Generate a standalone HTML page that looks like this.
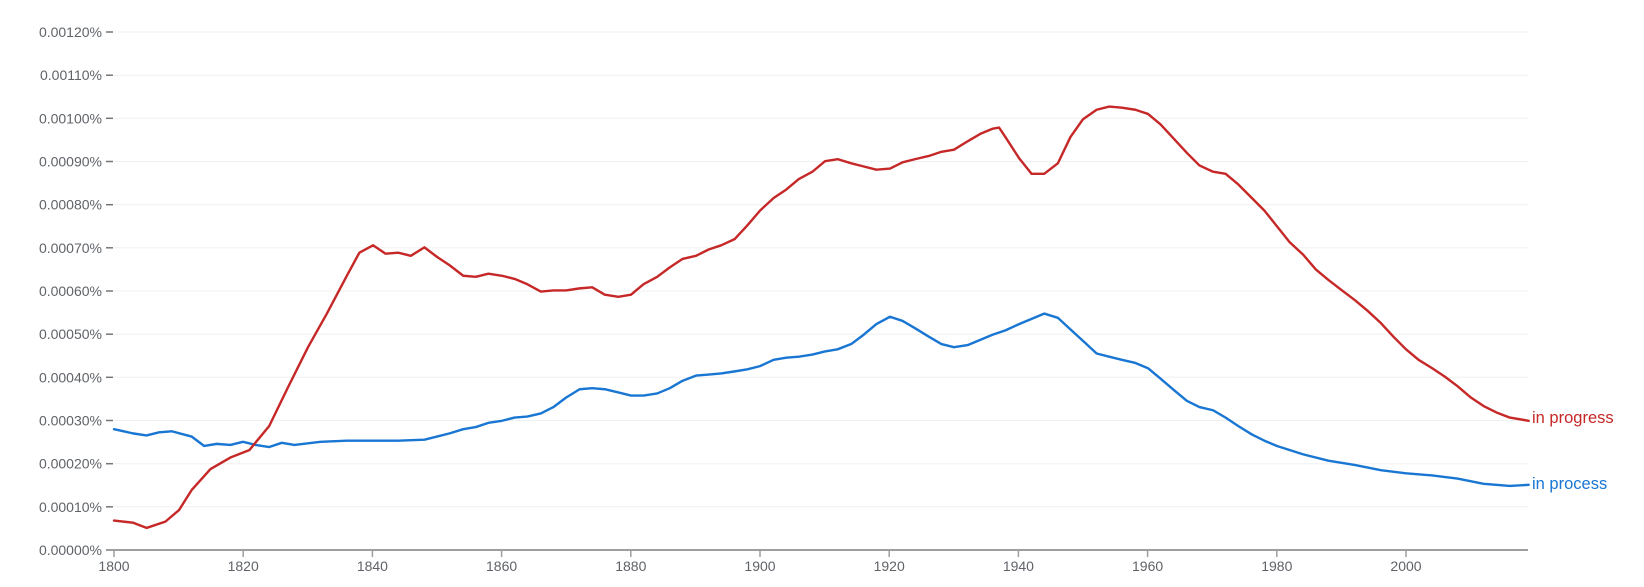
<!DOCTYPE html>
<html><head><meta charset="utf-8"><style>
html,body{margin:0;padding:0;background:#fff;}
svg{display:block;font-family:"Liberation Sans",Roboto,sans-serif;}
</style></head><body>
<svg width="1644" height="587" viewBox="0 0 1644 587" xmlns="http://www.w3.org/2000/svg">
<g stroke="#f0f0f0" stroke-width="1">
<line x1="114" x2="1528" y1="32" y2="32"/><line x1="114" x2="1528" y1="75.2" y2="75.2"/><line x1="114" x2="1528" y1="118.3" y2="118.3"/><line x1="114" x2="1528" y1="161.5" y2="161.5"/><line x1="114" x2="1528" y1="204.7" y2="204.7"/><line x1="114" x2="1528" y1="247.8" y2="247.8"/><line x1="114" x2="1528" y1="291" y2="291"/><line x1="114" x2="1528" y1="334.2" y2="334.2"/><line x1="114" x2="1528" y1="377.3" y2="377.3"/><line x1="114" x2="1528" y1="420.5" y2="420.5"/><line x1="114" x2="1528" y1="463.7" y2="463.7"/><line x1="114" x2="1528" y1="506.8" y2="506.8"/>
</g>
<g stroke="#757575" stroke-width="1.5">
<line x1="106" x2="113" y1="32" y2="32"/><line x1="106" x2="113" y1="75.2" y2="75.2"/><line x1="106" x2="113" y1="118.3" y2="118.3"/><line x1="106" x2="113" y1="161.5" y2="161.5"/><line x1="106" x2="113" y1="204.7" y2="204.7"/><line x1="106" x2="113" y1="247.8" y2="247.8"/><line x1="106" x2="113" y1="291" y2="291"/><line x1="106" x2="113" y1="334.2" y2="334.2"/><line x1="106" x2="113" y1="377.3" y2="377.3"/><line x1="106" x2="113" y1="420.5" y2="420.5"/><line x1="106" x2="113" y1="463.7" y2="463.7"/><line x1="106" x2="113" y1="506.8" y2="506.8"/>
</g>
<line x1="106" x2="1528" y1="550" y2="550" stroke="#9e9e9e" stroke-width="2"/>
<g stroke="#9e9e9e" stroke-width="1.5">
<line x1="114" x2="114" y1="550" y2="557"/><line x1="243.2" x2="243.2" y1="550" y2="557"/><line x1="372.4" x2="372.4" y1="550" y2="557"/><line x1="501.6" x2="501.6" y1="550" y2="557"/><line x1="630.8" x2="630.8" y1="550" y2="557"/><line x1="760" x2="760" y1="550" y2="557"/><line x1="889.2" x2="889.2" y1="550" y2="557"/><line x1="1018.4" x2="1018.4" y1="550" y2="557"/><line x1="1147.6" x2="1147.6" y1="550" y2="557"/><line x1="1276.8" x2="1276.8" y1="550" y2="557"/><line x1="1406" x2="1406" y1="550" y2="557"/>
</g>
<g fill="#5f6368" font-size="14" text-anchor="end">
<text x="102" y="37">0.00120%</text><text x="102" y="80.2">0.00110%</text><text x="102" y="123.3">0.00100%</text><text x="102" y="166.5">0.00090%</text><text x="102" y="209.7">0.00080%</text><text x="102" y="252.8">0.00070%</text><text x="102" y="296">0.00060%</text><text x="102" y="339.2">0.00050%</text><text x="102" y="382.3">0.00040%</text><text x="102" y="425.5">0.00030%</text><text x="102" y="468.7">0.00020%</text><text x="102" y="511.8">0.00010%</text><text x="102" y="555">0.00000%</text>
</g>
<g fill="#5f6368" font-size="14" text-anchor="middle">
<text x="114" y="571">1800</text><text x="243.2" y="571">1820</text><text x="372.4" y="571">1840</text><text x="501.6" y="571">1860</text><text x="630.8" y="571">1880</text><text x="760" y="571">1900</text><text x="889.2" y="571">1920</text><text x="1018.4" y="571">1940</text><text x="1147.6" y="571">1960</text><text x="1276.8" y="571">1980</text><text x="1406" y="571">2000</text>
</g>
<g transform="matrix(1.0487 0 0 1.0507 0.74 0.48)" fill="none" stroke-width="2.3" stroke-linejoin="round" stroke-linecap="round">
<polyline stroke="#1976d2" points="108,408 126,412 139,414 151,411 163,410 182,415 194,424 206,422 219,423 231,420 243,423 256,425 268,421 280,423 305,420 330,419 355,419 379,419 404,418 416,415 428,412 441,408 453,406 465,402 478,400 490,397 502,396 515,393 527,387 539,378 552,370 564,369 576,370 589,373 601,376 613,376 626,374 638,369 650,362 663,357 675,356 687,355 700,353 712,351 724,348 737,342 749,340 761,339 774,337 786,334 798,332 811,327 823,318 835,308 848,301 860,305 872,312 885,320 897,327 909,330 922,328 934,323 946,318 958,314 971,308 983,303 995,298 1008,302 1020,313 1032,324 1045,336 1057,339 1069,342 1082,345 1094,350 1106,360 1119,371 1131,381 1143,387 1156,390 1168,397 1180,405 1193,413 1205,419 1217,424 1242,432 1266,438 1291,442 1316,447 1340,450 1365,452 1389,455 1414,460 1439,462 1457,461"/>
<polyline stroke="#c62828" points="108,495 126,497 139,502 157,496 170,485 182,466 200,446 219,435 237,428 256,405 274,368 293,330 311,298 330,262 342,240 355,233 367,241 379,240 391,243 404,235 416,244 428,252 441,262 453,263 465,260 478,262 490,265 502,270 515,277 527,276 539,276 552,274 564,273 576,280 589,282 601,280 613,270 626,263 638,254 650,246 663,243 675,237 687,233 700,227 712,214 724,200 737,188 749,180 761,170 774,163 786,153 798,151 811,155 823,158 835,161 848,160 860,154 872,151 885,148 897,144 909,142 922,134 934,127 946,122 952,121 958,130 971,150 983,165 995,165 1008,155 1020,130 1032,113 1045,104 1057,101 1069,102 1082,104 1094,108 1106,118 1119,132 1131,145 1143,157 1156,163 1168,165 1180,175 1193,188 1205,200 1217,215 1229,230 1242,242 1254,256 1266,266 1279,276 1291,285 1303,295 1316,307 1328,320 1340,332 1352,342 1365,350 1377,358 1389,367 1402,378 1414,386 1426,392 1439,397 1457,400"/>
</g>
<text x="1532" y="423" font-size="16.5" fill="#c62828">in progress</text>
<text x="1532" y="489" font-size="16.5" fill="#1976d2">in process</text>
</svg>
</body></html>
